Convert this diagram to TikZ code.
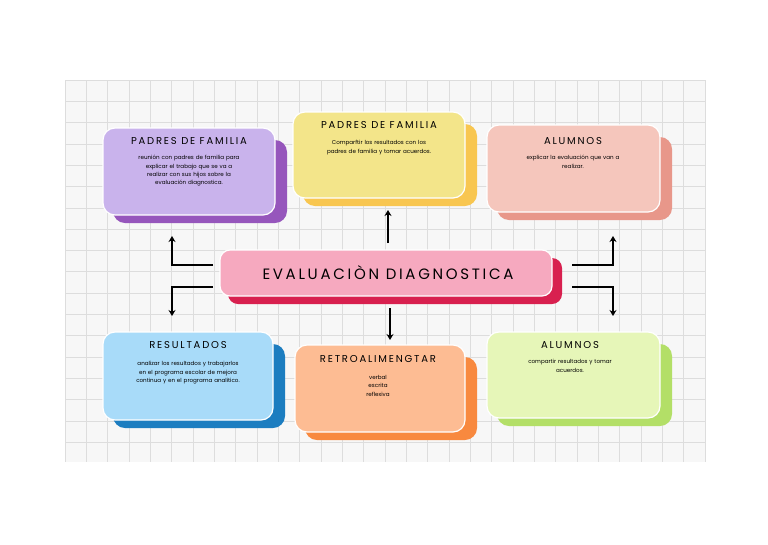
\documentclass[tikz,border=0pt]{standalone}
\usetikzlibrary{arrows.meta}
\usepackage{fontspec}
\setmainfont{Poppins}
\newfontfamily\hd[LetterSpace=18]{Poppins}
\definecolor{gridc}{HTML}{DDDDDD}
\definecolor{pf}{HTML}{C9B3EC}\definecolor{ps}{HTML}{9656BC}
\definecolor{yf}{HTML}{F3E58A}\definecolor{ys}{HTML}{F8C650}
\definecolor{sf}{HTML}{F5C6BC}\definecolor{ss}{HTML}{E8978A}
\definecolor{bf}{HTML}{A8DBF9}\definecolor{bs}{HTML}{1C7DC0}
\definecolor{of}{HTML}{FDBC93}\definecolor{os}{HTML}{F8893F}
\definecolor{gf}{HTML}{E6F6B8}\definecolor{gs}{HTML}{B3DF67}
\definecolor{cf}{HTML}{F6A9BF}\definecolor{cs}{HTML}{D8204F}
\tikzset{x=1pt,y=-1pt,
 front/.style={rounded corners=12pt,draw=white,line width=1.2pt},
 shade/.style={rounded corners=12pt},
 ttl/.style={font=\hd\fontsize{10}{12}\selectfont,anchor=north},
 body/.style={font=\fontsize{5.6}{8.2}\selectfont,align=center,anchor=north,text width=150pt},
 arr/.style={line width=2.2pt,-{Stealth[length=6pt,width=7pt]}}}
\begin{document}
\begin{tikzpicture}
\fill[white] (0,0) rectangle (768,544);
\useasboundingbox (0,0) rectangle (768,544);
\fill[gray!6] (65,80) rectangle (705,462);
\foreach \i in {0,...,30} \draw[gridc,line width=0.5pt] (65+\i*21.33,80) -- (65+\i*21.33,462);
\foreach \j in {0,...,17} \draw[gridc,line width=0.5pt] (65,80+\j*21.3) -- (705,80+\j*21.3);
\newcommand\mybox[6]{%
 \fill[shade,#6] (#1+10,#2+12) rectangle (#3+12,#4+8);
 \draw[front,fill=#5] (#1,#2) rectangle (#3,#4);}
\mybox{103}{128}{275}{215}{pf}{ps}
\mybox{293}{112}{465}{198}{yf}{ys}
\mybox{487}{125}{660}{212}{sf}{ss}
\mybox{103}{332}{273}{420}{bf}{bs}
\mybox{295}{345}{465}{432}{of}{os}
\mybox{487}{332}{660}{418}{gf}{gs}
\fill[rounded corners=10pt,cs] (228,258) rectangle (562,304);
\draw[front,fill=cf,rounded corners=10pt] (220,250) rectangle (552,296);
\node[font=\hd\fontsize{15}{18}\selectfont] (c) at (388,273) {EVALUACIÒN DIAGNOSTICA};
\node[ttl] (t1) at (189,134) {PADRES DE FAMILIA};
\node[body] (b1) at (189,152) {reunión con padres de familia para\\ explicar el trabajo que se va a\\ realizar con sus hijos sobre la\\ evaluación diagnostica.};
\node[ttl] (t2) at (379,118) {PADRES DE FAMILIA};
\node[body] (b2) at (379,137) {Comparftir los resultados con los\\ padres de familia y tomar acuerdos.};
\node[ttl] (t3) at (573,134) {ALUMNOS};
\node[body] (b3) at (573,152) {explicar la evaluación que van a\\ realizar.};
\node[ttl] (t4) at (188,338) {RESULTADOS};
\node[body] (b4) at (188,358) {analizar los resultados y trabajarlos\\ en el programa escolar de mejora\\ continua y en el programa analitico.};
\node[ttl] (t5) at (378,352) {RETROALIMENGTAR};
\node[body] (b5) at (378,372) {verbal\\ escrita\\ reflexiva};
\node[ttl] (t6) at (570,338) {ALUMNOS};
\node[body] (b6) at (570,356) {compartir resultados y tomar\\ acuerdos.};
\coordinate (u1) at (388,243); \coordinate (u2) at (388,210);
\draw[arr] (u1) -- (u2);
\coordinate (d1) at (390,308); \coordinate (d2) at (390,340);
\draw[arr] (d1) -- (d2);
\coordinate (l1) at (213,265); \coordinate (l2) at (172,265); \coordinate (l3) at (172,236);
\draw[arr] (l1) -- (l2) -- (l3);
\coordinate (l4) at (213,287); \coordinate (l5) at (172,287); \coordinate (l6) at (172,316);
\draw[arr] (l4) -- (l5) -- (l6);
\coordinate (r1) at (572,265); \coordinate (r2) at (613,265); \coordinate (r3) at (613,236);
\draw[arr] (r1) -- (r2) -- (r3);
\coordinate (r4) at (572,287); \coordinate (r5) at (613,287); \coordinate (r6) at (613,316);
\draw[arr] (r4) -- (r5) -- (r6);
\end{tikzpicture}
\end{document}
